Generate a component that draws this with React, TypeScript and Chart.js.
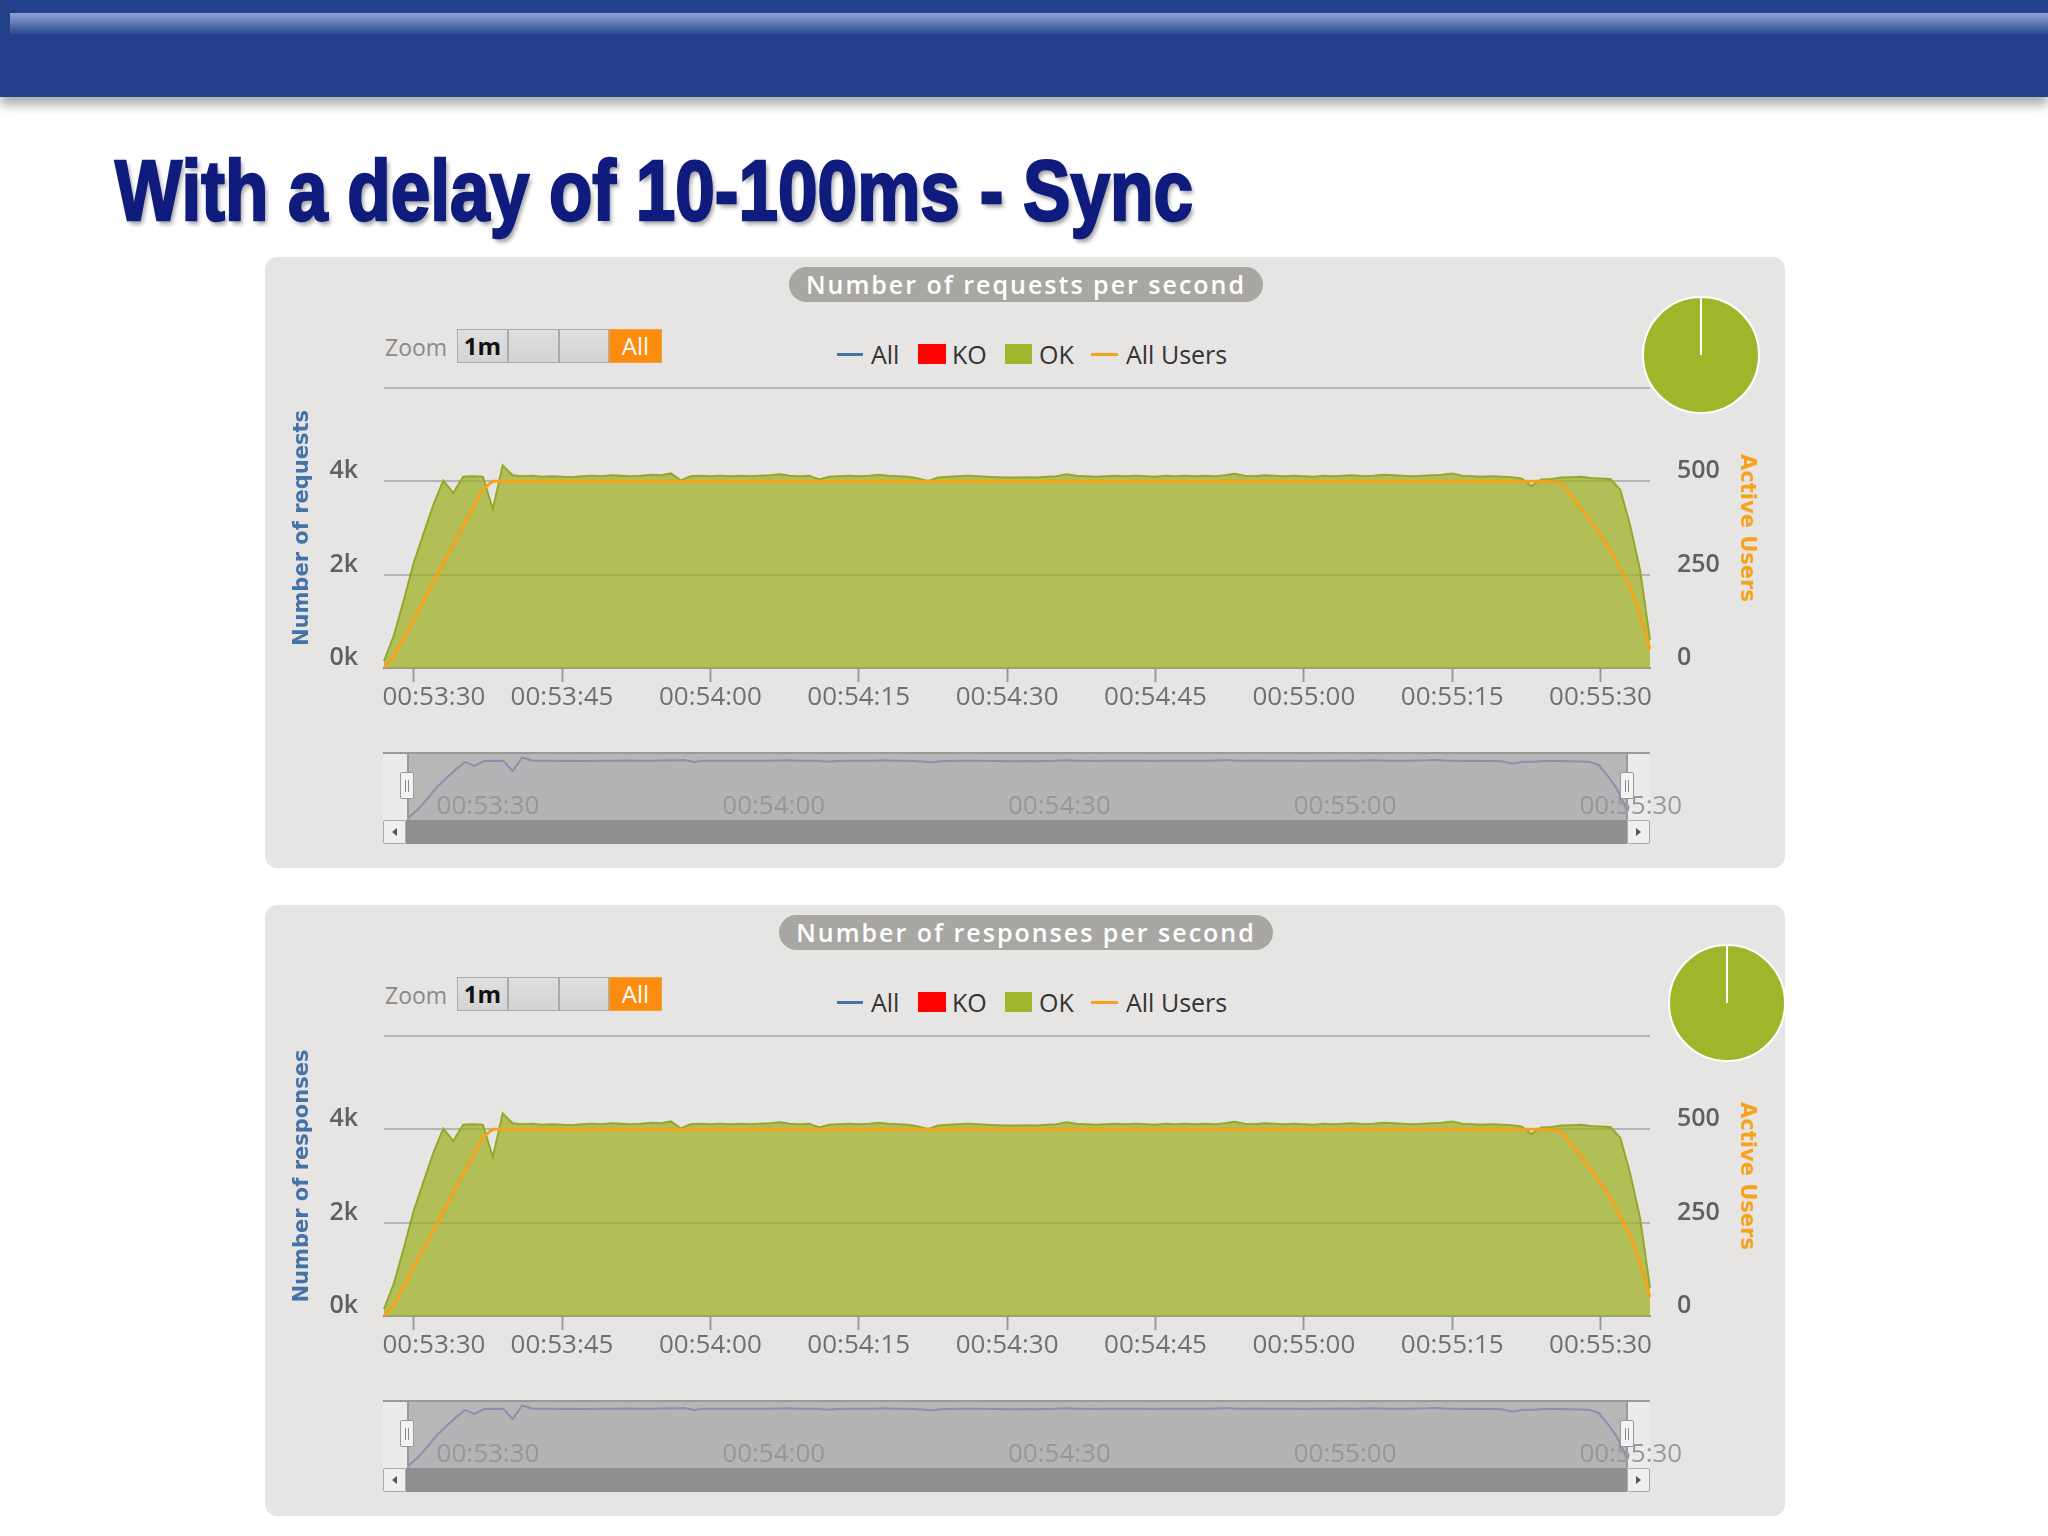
import React, { useEffect, useLayoutEffect, useRef } from "react";
import { Chart, registerables } from "chart.js";

Chart.register(...registerables);

// ---------------- data ----------------
const SLIDE_TITLE = "With a delay of 10-100ms - Sync";
const START_TIME = "00:53:27";

// requests per second (one value per second from 00:53:27 to 00:55:35)
const requestsPerSecond = [
  150, 700, 1450, 2250, 2880, 3500, 4020, 3750, 4100, 4110,
  4100, 3400, 4340, 4130, 4110, 4120, 4100, 4110, 4100, 4090,
  4110, 4120, 4110, 4130, 4120, 4110, 4120, 4140, 4130, 4170,
  4020, 4110, 4120, 4110, 4120, 4110, 4120, 4110, 4120, 4130,
  4150, 4120, 4110, 4120, 4040, 4100, 4110, 4120, 4110, 4120,
  4140, 4120, 4110, 4100, 4060, 4010, 4080, 4100, 4110, 4120,
  4110, 4100, 4090, 4080, 4080, 4090, 4080, 4100, 4110, 4150,
  4120, 4110, 4100, 4110, 4120, 4110, 4120, 4110, 4100, 4120,
  4110, 4120, 4110, 4120, 4110, 4130, 4160, 4120, 4110, 4130,
  4120, 4110, 4120, 4110, 4100, 4120, 4110, 4120, 4130, 4110,
  4120, 4140, 4130, 4120, 4110, 4120, 4130, 4140, 4170, 4120,
  4110, 4100, 4110, 4100, 4090, 4060, 3900, 4040, 4050, 4080,
  4090, 4100, 4070, 4060, 4050, 3820, 3050, 2100, 600,
];

// responses per second (same time range)
const responsesPerSecond = [
  150, 700, 1450, 2250, 2880, 3500, 4020, 3750, 4100, 4110,
  4100, 3400, 4340, 4130, 4110, 4120, 4100, 4110, 4100, 4090,
  4110, 4120, 4110, 4130, 4120, 4110, 4120, 4140, 4130, 4170,
  4020, 4110, 4120, 4110, 4120, 4110, 4120, 4110, 4120, 4130,
  4150, 4120, 4110, 4120, 4040, 4100, 4110, 4120, 4110, 4120,
  4140, 4120, 4110, 4100, 4060, 4010, 4080, 4100, 4110, 4120,
  4110, 4100, 4090, 4080, 4080, 4090, 4080, 4100, 4110, 4150,
  4120, 4110, 4100, 4110, 4120, 4110, 4120, 4110, 4100, 4120,
  4110, 4120, 4110, 4120, 4110, 4130, 4160, 4120, 4110, 4130,
  4120, 4110, 4120, 4110, 4100, 4120, 4110, 4120, 4130, 4110,
  4120, 4140, 4130, 4120, 4110, 4120, 4130, 4140, 4170, 4120,
  4110, 4100, 4110, 4100, 4090, 4060, 3900, 4040, 4050, 4080,
  4090, 4100, 4070, 4060, 4050, 3820, 3050, 2100, 600,
];

// active users (right axis)
const activeUsers = [
  0, 30, 80, 130, 180, 230, 280, 330, 380, 430,
  480, 500, 500, 500, 500, 500, 500, 500, 500, 500,
  500, 500, 500, 500, 500, 500, 500, 500, 500, 500,
  500, 500, 500, 500, 500, 500, 500, 500, 500, 500,
  500, 500, 500, 500, 500, 500, 500, 500, 500, 500,
  500, 500, 500, 500, 500, 500, 500, 500, 500, 500,
  500, 500, 500, 500, 500, 500, 500, 500, 500, 500,
  500, 500, 500, 500, 500, 500, 500, 500, 500, 500,
  500, 500, 500, 500, 500, 500, 500, 500, 500, 500,
  500, 500, 500, 500, 500, 500, 500, 500, 500, 500,
  500, 500, 500, 500, 500, 500, 500, 500, 500, 500,
  500, 500, 500, 500, 500, 500, 500, 500, 499, 494,
  462, 428, 392, 356, 315, 268, 215, 145, 50,
];

const mainTickTimes = [
  "00:53:30", "00:53:45", "00:54:00", "00:54:15", "00:54:30",
  "00:54:45", "00:55:00", "00:55:15", "00:55:30",
];
const navigatorTickTimes = ["00:53:30", "00:54:00", "00:54:30", "00:55:00", "00:55:30"];

const requestAxisMax = 6000;
const requestAxisStep = 2000;
const usersAxisMax = 750;
const usersAxisStep = 250;

const pieLabels = ["OK", "KO"];
const pieValues = [100, 0];

const legendItems = ["All", "KO", "OK", "All Users"];
const zoomButtons = ["1m", "", "", "All"];

// ---------------- helpers ----------------
function toSeconds(s: string) {
  const [h, m, sec] = s.split(":").map(Number);
  return h * 3600 + m * 60 + sec;
}
function fmtTime(t: number) {
  const h = Math.floor(t / 3600);
  const m = Math.floor((t % 3600) / 60);
  const s = t % 60;
  return [h, m, s].map((v) => String(v).padStart(2, "0")).join(":");
}
const timeLabels = requestsPerSecond.map((_, i) => fmtTime(toSeconds(START_TIME) + i));

const OK_GREEN = "#a0b52a";
const USERS_ORANGE = "#f6a21c";
const SANS = '"Open Sans", "DejaVu Sans", sans-serif';

// ---------------- main chart ----------------
function MainChart({ values, yTitle }: { values: number[]; yTitle: string }) {
  const ref = useRef<HTMLCanvasElement>(null);
  useEffect(() => {
    const firstTickIdx = timeLabels.indexOf(mainTickTimes[0]);
    const chart = new Chart(ref.current as HTMLCanvasElement, {
      type: "line",
      data: {
        labels: timeLabels,
        datasets: [
          {
            label: "All Users",
            data: activeUsers,
            yAxisID: "yUsers",
            borderColor: USERS_ORANGE,
            borderWidth: 3,
            pointRadius: 0,
            fill: false,
            tension: 0,
          },
          {
            label: "OK",
            data: values,
            yAxisID: "yReq",
            borderColor: "#93a82c",
            borderWidth: 2,
            backgroundColor: "rgba(160,178,40,0.75)",
            fill: "origin",
            pointRadius: 0,
            tension: 0,
          },
        ],
      },
      options: {
        responsive: false,
        animation: false,
        events: [],
        layout: { padding: { top: 131, left: 0, right: 0, bottom: 0 } },
        plugins: { legend: { display: false }, tooltip: { enabled: false } },
        scales: {
          x: {
            type: "category",
            offset: false,
            ticks: {
              autoSkip: false,
              maxRotation: 0,
              minRotation: 0,
              padding: 0,
              color: "#707070",
              font: { family: SANS, size: 26 },
              callback: (_v: any, i: number) => {
                const lab = timeLabels[i];
                if (!mainTickTimes.includes(lab)) return "";
                return i === firstTickIdx ? "      " + lab : lab;
              },
            },
            grid: {
              display: true,
              drawOnChartArea: false,
              drawTicks: true,
              tickLength: 14,
              tickWidth: 2,
              tickColor: (ctx: any) =>
                ctx.tick && ctx.tick.label ? "#9a9a9a" : "rgba(0,0,0,0)",
            },
            border: { display: true, color: "#9a9a9a", width: 2 },
            afterFit: (s: any) => {
              s.height = 50;
            },
          },
          yReq: {
            type: "linear",
            position: "left",
            min: 0,
            max: requestAxisMax,
            ticks: {
              stepSize: requestAxisStep,
              padding: 26,
              labelOffset: -10,
              color: "#606060",
              font: { family: SANS, size: 25, weight: "600" },
              callback: (v: any) => (v === requestAxisMax ? "" : `${Number(v) / 1000}k`),
            },
            grid: { color: "#b5b5b5", lineWidth: 2, drawTicks: false },
            border: { display: false },
            title: {
              display: true,
              text: yTitle,
              color: "#4572a7",
              font: { family: '"DejaVu Sans", sans-serif', size: 21, weight: "bold" },
              padding: { top: 25, bottom: 0 },
            },
            afterFit: (s: any) => {
              s.width = 119;
            },
          },
          yUsers: {
            type: "linear",
            position: "right",
            min: 0,
            max: usersAxisMax,
            ticks: {
              stepSize: usersAxisStep,
              padding: 27,
              labelOffset: -10,
              color: "#606060",
              font: { family: SANS, size: 25, weight: "600" },
              callback: (v: any) => (v === usersAxisMax ? "" : String(v)),
            },
            grid: { display: false, drawTicks: false },
            border: { display: false },
            title: {
              display: true,
              text: "Active Users",
              color: USERS_ORANGE,
              font: { family: '"DejaVu Sans", sans-serif', size: 21, weight: "bold" },
              padding: { top: 26, bottom: 0 },
            },
            afterFit: (s: any) => {
              s.width = 135;
            },
          },
        },
      } as any,
    });
    return () => chart.destroy();
  }, [values, yTitle]);
  return (
    <canvas
      ref={ref}
      width={1520}
      height={461}
      style={{ position: "absolute", left: 0, top: 0 }}
    />
  );
}

// ---------------- navigator ----------------
const maskPlugin = {
  id: "navMask",
  beforeDraw(chart: any) {
    const { ctx, chartArea: a } = chart;
    ctx.save();
    ctx.fillStyle = "#b7b7b7";
    ctx.fillRect(a.left, a.top, a.right - a.left, a.bottom - a.top);
    ctx.restore();
  },
};

function NavigatorChart({ values }: { values: number[] }) {
  const ref = useRef<HTMLCanvasElement>(null);
  useEffect(() => {
    const chart = new Chart(ref.current as HTMLCanvasElement, {
      type: "line",
      data: {
        labels: timeLabels,
        datasets: [
          {
            data: values,
            borderColor: "#8a90ad",
            borderWidth: 2,
            backgroundColor: "rgba(130,140,180,0.06)",
            fill: "origin",
            pointRadius: 0,
            tension: 0,
          },
        ],
      },
      options: {
        responsive: false,
        animation: false,
        events: [],
        layout: { padding: { top: 8, left: 25, right: 96, bottom: 0 } },
        plugins: { legend: { display: false }, tooltip: { enabled: false } },
        scales: {
          x: {
            type: "category",
            offset: false,
            ticks: {
              autoSkip: false,
              maxRotation: 0,
              minRotation: 0,
              align: "start",
              mirror: true,
              padding: -2,
              color: "#999999",
              font: { family: SANS, size: 26 },
              callback: (_v: any, i: number) =>
                navigatorTickTimes.includes(timeLabels[i]) ? timeLabels[i] : "",
            },
            grid: { display: false, drawTicks: false },
            border: { display: false },
            afterFit: (s: any) => {
              s.height = 30;
            },
          },
          y: { display: false, min: 0, max: 4650 },
        },
      } as any,
      plugins: [maskPlugin],
    });
    return () => chart.destroy();
  }, [values]);
  return (
    <canvas
      ref={ref}
      width={1340}
      height={105}
      style={{ position: "absolute", left: 118, top: 488 }}
    />
  );
}

// ---------------- pie ----------------
function PieChart({ cx, cy }: { cx: number; cy: number }) {
  const ref = useRef<HTMLCanvasElement>(null);
  useEffect(() => {
    const chart = new Chart(ref.current as HTMLCanvasElement, {
      type: "pie",
      data: {
        labels: pieLabels,
        datasets: [
          {
            data: pieValues,
            backgroundColor: [OK_GREEN, "#ff0000"],
            borderColor: "#ffffff",
            borderWidth: 2,
          },
        ],
      },
      options: {
        responsive: false,
        animation: false,
        events: [],
        radius: 58,
        layout: { padding: 0 },
        plugins: { legend: { display: false }, tooltip: { enabled: false } },
      } as any,
    });
    return () => chart.destroy();
  }, []);
  return (
    <canvas
      ref={ref}
      width={140}
      height={140}
      style={{ position: "absolute", left: cx - 70, top: cy - 70 }}
    />
  );
}

// ---------------- panel decorations ----------------
function Legend() {
  const text = (label: string, left: number) => (
    <div
      key={label + left}
      style={{
        position: "absolute",
        left,
        top: 97,
        transform: "translateY(-50%)",
        fontFamily: SANS,
        fontSize: 25,
        color: "#333",
        whiteSpace: "nowrap",
      }}
    >
      {label}
    </div>
  );
  return (
    <>
      <div style={{ position: "absolute", left: 572, top: 96, width: 26, height: 3, background: "#4572a7" }} />
      {text(legendItems[0], 606)}
      <div style={{ position: "absolute", left: 653, top: 87, width: 28, height: 20, background: "#ff0000" }} />
      {text(legendItems[1], 687)}
      <div style={{ position: "absolute", left: 740, top: 87, width: 27, height: 20, background: OK_GREEN }} />
      {text(legendItems[2], 774)}
      <div style={{ position: "absolute", left: 826, top: 96, width: 27, height: 3, background: USERS_ORANGE }} />
      {text(legendItems[3], 861)}
    </>
  );
}

function ZoomBar() {
  const widths = [51, 51, 50, 53];
  let x = 192;
  return (
    <>
      <div
        style={{
          position: "absolute",
          left: 120,
          top: 90,
          transform: "translateY(-50%)",
          fontFamily: SANS,
          fontSize: 23,
          color: "#8a8a8a",
        }}
      >
        Zoom
      </div>
      {zoomButtons.map((b, i) => {
        const left = x;
        x += widths[i];
        const active = b === "All";
        return (
          <div
            key={i}
            style={{
              position: "absolute",
              left,
              top: 72,
              width: widths[i],
              height: 34,
              boxSizing: "border-box",
              border: active ? "1px solid #f0a040" : "1px solid #ababab",
              background: active ? "#fb8c0e" : "linear-gradient(#e0e0e0, #d3d3d3)",
              color: active ? "#fff" : "#111",
              fontFamily: SANS,
              fontSize: 24,
              fontWeight: active ? 400 : 700,
              display: "flex",
              alignItems: "center",
              justifyContent: "center",
              lineHeight: 1,
            }}
          >
            {b}
          </div>
        );
      })}
    </>
  );
}

function NavigatorBackground() {
  return (
    <>
      <div style={{ position: "absolute", left: 118, top: 496, width: 25, height: 67, background: "#ebebeb" }} />
      <div style={{ position: "absolute", left: 1362, top: 496, width: 23, height: 67, background: "#ebebeb" }} />
    </>
  );
}

function NavigatorChrome() {
  const handle = (left: number) => (
    <div
      style={{
        position: "absolute",
        left,
        top: 515,
        width: 14,
        height: 27,
        boxSizing: "border-box",
        background: "#f3f3f3",
        border: "1px solid #9a9a9a",
        borderRadius: 2,
      }}
    >
      <div style={{ position: "absolute", left: 4, top: 7, width: 1, height: 12, background: "#888" }} />
      <div style={{ position: "absolute", left: 7, top: 7, width: 1, height: 12, background: "#888" }} />
    </div>
  );
  const button = (left: number, dir: "l" | "r") => (
    <div
      style={{
        position: "absolute",
        left,
        top: 563,
        width: 23,
        height: 24,
        boxSizing: "border-box",
        background: "#efefef",
        border: "1px solid #ababab",
        borderRadius: 2,
      }}
    >
      <div
        style={{
          position: "absolute",
          left: 8,
          top: 7,
          width: 0,
          height: 0,
          borderTop: "4px solid transparent",
          borderBottom: "4px solid transparent",
          ...(dir === "l" ? { borderRight: "5px solid #555" } : { borderLeft: "5px solid #555" }),
        }}
      />
    </div>
  );
  return (
    <>
      <div style={{ position: "absolute", left: 118, top: 495, width: 1267, height: 2, background: "#9a9a9a" }} />
      <div style={{ position: "absolute", left: 142, top: 496, width: 2, height: 67, background: "#9a9a9a" }} />
      <div style={{ position: "absolute", left: 1361, top: 496, width: 2, height: 67, background: "#9a9a9a" }} />
      <div style={{ position: "absolute", left: 141, top: 563, width: 1221, height: 24, background: "#8f8f8f" }} />
      {button(118, "l")}
      {button(1362, "r")}
      {handle(135)}
      {handle(1355)}
    </>
  );
}

function Panel({
  top,
  title,
  yTitle,
  values,
  pieCx,
}: {
  top: number;
  title: string;
  yTitle: string;
  values: number[];
  pieCx: number;
}) {
  return (
    <div
      style={{
        position: "absolute",
        left: 265,
        top,
        width: 1520,
        height: 611,
        background: "#e7e5e3",
        borderRadius: 12,
        overflow: "hidden",
      }}
    >
      <div
        style={{
          position: "absolute",
          left: 0,
          top: 10,
          width: 1522,
          display: "flex",
          justifyContent: "center",
        }}
      >
        <div
          style={{
            height: 35,
            padding: "0 17px",
            borderRadius: 18,
            background: "#a8a7a3",
            color: "#fff",
            fontFamily: SANS,
            fontWeight: 600,
            fontSize: 25,
            letterSpacing: 2,
            lineHeight: "35px",
            whiteSpace: "nowrap",
          }}
        >
          {title}
        </div>
      </div>
      <ZoomBar />
      <Legend />
      <MainChart values={values} yTitle={yTitle} />
      <PieChart cx={pieCx} cy={98} />
      <NavigatorBackground />
      <NavigatorChart values={values} />
      <NavigatorChrome />
    </div>
  );
}

function SlideTitle() {
  const ref = useRef<HTMLDivElement>(null);
  useLayoutEffect(() => {
    const el = ref.current;
    if (!el) return;
    el.style.transform = "none";
    const w = el.getBoundingClientRect().width;
    if (w > 0) el.style.transform = `scaleX(${1078 / w})`;
  }, []);
  return (
    <div
      ref={ref}
      style={{
        position: "absolute",
        left: 115,
        top: 148,
        fontFamily: '"Liberation Sans Narrow", "Liberation Sans", Arial, sans-serif',
        fontWeight: 700,
        fontSize: 85,
        lineHeight: "85px",
        color: "#0f1c7d",
        whiteSpace: "nowrap",
        transformOrigin: "0 0",
        WebkitTextStroke: "2.5px #0f1c7d",
        textShadow: "3px 4px 5px rgba(0,0,0,0.38)",
      }}
    >
      {SLIDE_TITLE}
    </div>
  );
}

export default function App() {
  return (
    <div
      style={{
        position: "absolute",
        left: 0,
        top: 0,
        width: 2048,
        height: 1536,
        background: "#ffffff",
        overflow: "hidden",
      }}
    >
      <div
        style={{
          position: "absolute",
          left: 0,
          top: 0,
          width: 2048,
          height: 97,
          background: "#23428b",
          boxShadow: "0 8px 10px rgba(0,0,0,0.32)",
        }}
      >
        <div
          style={{
            position: "absolute",
            left: 10,
            right: 0,
            top: 13,
            height: 21,
            background: "linear-gradient(rgba(165,180,225,0.85), rgba(70,100,170,0.25))",
          }}
        />
      </div>
      <SlideTitle />
      <Panel
        top={257}
        title="Number of requests per second"
        yTitle="Number of requests"
        values={requestsPerSecond}
        pieCx={1436}
      />
      <Panel
        top={905}
        title="Number of responses per second"
        yTitle="Number of responses"
        values={responsesPerSecond}
        pieCx={1462}
      />
    </div>
  );
}
